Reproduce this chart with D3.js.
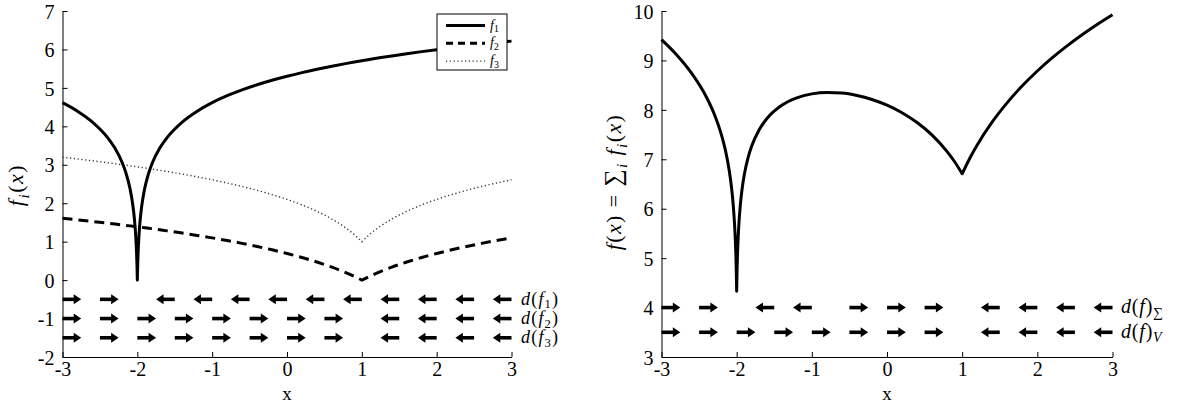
<!DOCTYPE html>
<html><head><meta charset="utf-8">
<script src="https://cdn.jsdelivr.net/npm/d3@7"></script>
<style>
body{margin:0;background:#fff}
svg text{font-family:"Liberation Serif","Times New Roman",serif;fill:#000}
</style>
</head><body>
<svg id="c" width="1184" height="404"></svg>
<script>
// ---- data ----
const xVals = [-3,-2.8,-2.6,-2.4,-2.3,-2.2,-2.15,-2.1,-2.07,-2.05,-2.03,-2.02,-2.01,-2.005,-2,-1.995,-1.99,-1.98,-1.97,-1.95,-1.93,-1.9,-1.85,-1.8,-1.7,-1.6,-1.4,-1.2,-1,-0.8,-0.6,-0.4,-0.2,0,0.2,0.4,0.6,0.8,0.9,1,1.1,1.2,1.4,1.6,1.8,2,2.2,2.4,2.6,2.8,3];
const f1Vals = [4.615,4.394,4.111,3.714,3.434,3.045,2.773,2.398,2.079,1.792,1.386,1.099,0.693,0.405,0,0.405,0.693,1.099,1.386,1.792,2.079,2.398,2.773,3.045,3.434,3.714,4.111,4.394,4.615,4.796,4.949,5.081,5.198,5.303,5.398,5.485,5.565,5.638,5.673,5.707,5.740,5.771,5.832,5.889,5.943,5.994,6.043,6.089,6.133,6.176,6.217];
const f2Vals = [1.609,1.569,1.526,1.482,1.459,1.435,1.423,1.411,1.404,1.399,1.394,1.391,1.389,1.388,1.386,1.385,1.384,1.381,1.379,1.374,1.369,1.361,1.348,1.335,1.308,1.281,1.224,1.163,1.099,1.030,0.956,0.875,0.788,0.693,0.588,0.470,0.336,0.182,0.095,0,0.095,0.182,0.336,0.470,0.588,0.693,0.788,0.875,0.956,1.030,1.099];
const f3Vals = [3.197,3.152,3.104,3.054,3.028,3.001,2.988,2.974,2.966,2.960,2.954,2.952,2.949,2.947,2.946,2.945,2.943,2.940,2.937,2.932,2.926,2.917,2.902,2.887,2.856,2.825,2.758,2.686,2.609,2.526,2.435,2.335,2.224,2.099,1.956,1.788,1.588,1.336,1.182,1.000,1.182,1.336,1.588,1.788,1.956,2.099,2.224,2.335,2.435,2.526,2.609];
const fSumVals = [9.421,9.115,8.741,8.250,7.921,7.481,7.184,6.783,6.449,6.151,5.734,5.442,5.031,4.740,4.332,4.735,5.020,5.420,5.702,6.098,6.374,6.676,7.023,7.267,7.598,7.820,8.093,8.243,8.323,8.352,8.340,8.291,8.210,8.095,7.942,7.743,7.489,7.156,6.950,6.707,7.017,7.289,7.756,8.147,8.487,8.786,9.055,9.299,9.524,9.732,9.925];
const cuspX = [-2, 1];

const arrowX = [-3,-2.5,-2,-1.5,-1,-0.5,0,0.5,1,1.5,2,2.5,3];
const dirF1  = [1,1,0,-1,-1,-1,-1,-1,-1,-1,-1,-1,-1];
const dirF2  = [1,1,1,1,1,1,1,1,0,-1,-1,-1,-1];
const dirF3  = [1,1,1,1,1,1,1,1,0,-1,-1,-1,-1];
const dirSum = [1,1,0,-1,-1,1,1,1,0,-1,-1,-1,-1];
const dirV   = [1,1,1,1,1,1,1,1,0,-1,-1,-1,-1];
const rowsLeftY = [-0.5,-1,-1.5];
const rowsRightY = [4,3.5];

const xTicks = [-3,-2,-1,0,1,2,3];
const yTicksLeft = [-2,-1,0,1,2,3,4,5,6,7];
const yTicksRight = [3,4,5,6,7,8,9,10];
const legendNames = ["1","2","3"];

// ---- drawing ----
const FONT = '"Liberation Serif","Times New Roman",serif';
const svg = d3.select("#c").attr("font-family",FONT);
const FS = 20;

const xL = d3.scaleLinear().domain([-3,3]).range([62.5,511.5]);
const yL = d3.scaleLinear().domain([-2,7]).range([357,11]);
const xR = d3.scaleLinear().domain([-3,3]).range([661.5,1112.5]);
const yR = d3.scaleLinear().domain([3,10]).range([357,11]);

function mathText(sel, parts, size, subShift){
  const sub = size*0.7;
  const sh = subShift==null ? size*0.25 : subShift;
  let shifted = 0;
  parts.forEach(p=>{
    const t = sel.append("tspan").text(p.t);
    if(p.i) t.attr("font-style","italic");
    if(p.sub){
      t.attr("font-size",sub).attr("dy", sh - shifted);
      shifted = sh;
    } else {
      t.attr("font-size", p.size||size);
      if(shifted){ t.attr("dy",-shifted); shifted = 0; }
    }
  });
  return sel;
}

function drawAxes(x, y, yTicks){
  const gx = svg.append("g").attr("transform",`translate(0,${y.range()[0]})`)
    .call(d3.axisBottom(x).tickValues(xTicks).tickSizeInner(-5).tickSizeOuter(0).tickPadding(5).tickFormat(d3.format("d")));
  const gy = svg.append("g").attr("transform",`translate(${x.range()[0]},0)`)
    .call(d3.axisLeft(y).tickValues(yTicks).tickSizeInner(-5).tickSizeOuter(0).tickPadding(8).tickFormat(d3.format("d")));
  [gx,gy].forEach(g=>{
    g.attr("font-family",FONT).attr("font-size",FS);
    g.selectAll("path.domain").attr("stroke","#000").attr("stroke-width",1);
    g.selectAll(".tick line").attr("stroke","#000").attr("stroke-width",1);
    g.selectAll(".tick text").attr("font-size",FS).attr("font-family",FONT)
      .text(d=> d<0 ? "-"+Math.abs(d) : d);
  });
  gy.selectAll(".tick text").attr("dy","0.36em");
  svg.append("text").attr("x",(x.range()[0]+x.range()[1])/2).attr("y",399.5)
    .attr("text-anchor","middle").attr("font-size",19).text("x");
}

function drawArrows(x, y, rowY, dirs){
  const hl = 7.5, hw = 5;
  const g = svg.append("g");
  arrowX.forEach((xv,i)=>{
    const d = dirs[i];
    if(!d) return;
    const x0 = x(xv), x1 = x(xv + d*0.25), yy = y(rowY);
    g.append("line").attr("x1",x0).attr("x2",x1 - d*hl*0.8).attr("y1",yy).attr("y2",yy)
      .attr("stroke","#000").attr("stroke-width",3.6);
    g.append("path").attr("d",`M${x1},${yy}L${x1-d*hl},${yy-hw}L${x1-d*hl},${yy+hw}Z`).attr("fill","#000");
  });
}

// smooth path that keeps sharp corners at the cusps
function cuspPath(x, y, vals){
  const pts = xVals.map((xv,i)=>[xv, vals[i]]);
  const segs = [];
  let cur = [];
  pts.forEach(p=>{
    cur.push(p);
    if(cuspX.includes(p[0])){ segs.push(cur); cur=[p]; }
  });
  if(cur.length>1) segs.push(cur);
  const gen = d3.line().x(p=>x(p[0])).y(p=>y(p[1])).curve(d3.curveMonotoneX);
  return segs.map((s,k)=>{ const d = gen(s); return k===0 ? d : d.replace(/^M/,"L"); }).join("");
}

// Left panel
drawAxes(xL, yL, yTicksLeft);
svg.append("path").attr("d",cuspPath(xL,yL,f3Vals)).attr("fill","none").attr("stroke","#333").attr("stroke-width",1.4).attr("stroke-dasharray","1.2,2.6");
svg.append("path").attr("d",cuspPath(xL,yL,f2Vals)).attr("fill","none").attr("stroke","#000").attr("stroke-width",3).attr("stroke-dasharray","10,6");
svg.append("path").attr("d",cuspPath(xL,yL,f1Vals)).attr("fill","none").attr("stroke","#000").attr("stroke-width",3).attr("stroke-linejoin","round");

drawArrows(xL, yL, rowsLeftY[0], dirF1);
drawArrows(xL, yL, rowsLeftY[1], dirF2);
drawArrows(xL, yL, rowsLeftY[2], dirF3);
rowsLeftY.forEach((ry,i)=>{
  const t = svg.append("text").attr("x",521).attr("y",yL(ry)+5.5).attr("font-size",18).attr("letter-spacing",1.2);
  mathText(t,[{t:"d",i:true},{t:"("},{t:"f",i:true},{t:legendNames[i],sub:true},{t:")"}],18,3.5);
});

// left y label
{
  const t = svg.append("text").attr("transform","translate(23,185) rotate(-90)").attr("text-anchor","middle").attr("font-size",22).attr("letter-spacing",1.5);
  mathText(t,[{t:"f",i:true},{t:"i",i:true,sub:true},{t:"("},{t:"x",i:true},{t:")"}],22);
}

// legend
{
  const g = svg.append("g");
  g.append("rect").attr("x",437).attr("y",14).attr("width",70).attr("height",56).attr("fill","#fff").attr("stroke","#000").attr("stroke-width",1);
  const styles = [{w:3,da:null,c:"#000"},{w:3,da:"7,5",c:"#000"},{w:1.4,da:"1.2,2.6",c:"#333"}];
  legendNames.forEach((n,i)=>{
    const yy = 25.5 + i*17.8;
    g.append("line").attr("x1",446).attr("x2",485).attr("y1",yy).attr("y2",yy)
      .attr("stroke",styles[i].c).attr("stroke-width",styles[i].w).attr("stroke-dasharray",styles[i].da);
    const t = g.append("text").attr("x",490).attr("y",yy+4).attr("font-size",14);
    mathText(t,[{t:"f",i:true},{t:n,sub:true}],14,2.5);
  });
}

// Right panel
drawAxes(xR, yR, yTicksRight);
svg.append("path").attr("d",cuspPath(xR,yR,fSumVals))
  .attr("fill","none").attr("stroke","#000").attr("stroke-width",3).attr("stroke-linejoin","round");
drawArrows(xR, yR, rowsRightY[0], dirSum);
drawArrows(xR, yR, rowsRightY[1], dirV);
{
  const t1 = svg.append("text").attr("x",1121).attr("y",yR(rowsRightY[0])+5.5).attr("font-size",20).attr("letter-spacing",0.8);
  mathText(t1,[{t:"d",i:true},{t:"("},{t:"f",i:true},{t:")"},{t:"∑",sub:true}],20,4);
  const t2 = svg.append("text").attr("x",1121).attr("y",yR(rowsRightY[1])+5.5).attr("font-size",20).attr("letter-spacing",0.8);
  mathText(t2,[{t:"d",i:true},{t:"("},{t:"f",i:true},{t:")"},{t:"V",i:true,sub:true}],20,4);
}
{
  const t = svg.append("text").attr("transform","translate(621,182) rotate(-90)").attr("text-anchor","middle").attr("font-size",22).attr("letter-spacing",1.4);
  mathText(t,[{t:"f",i:true},{t:"("},{t:"x",i:true},{t:")  =  "},{t:"∑",size:24},{t:"i",i:true,sub:true},{t:" "},{t:"f",i:true},{t:"i",i:true,sub:true},{t:"("},{t:"x",i:true},{t:")"}],22);
}
</script>
</body></html>
